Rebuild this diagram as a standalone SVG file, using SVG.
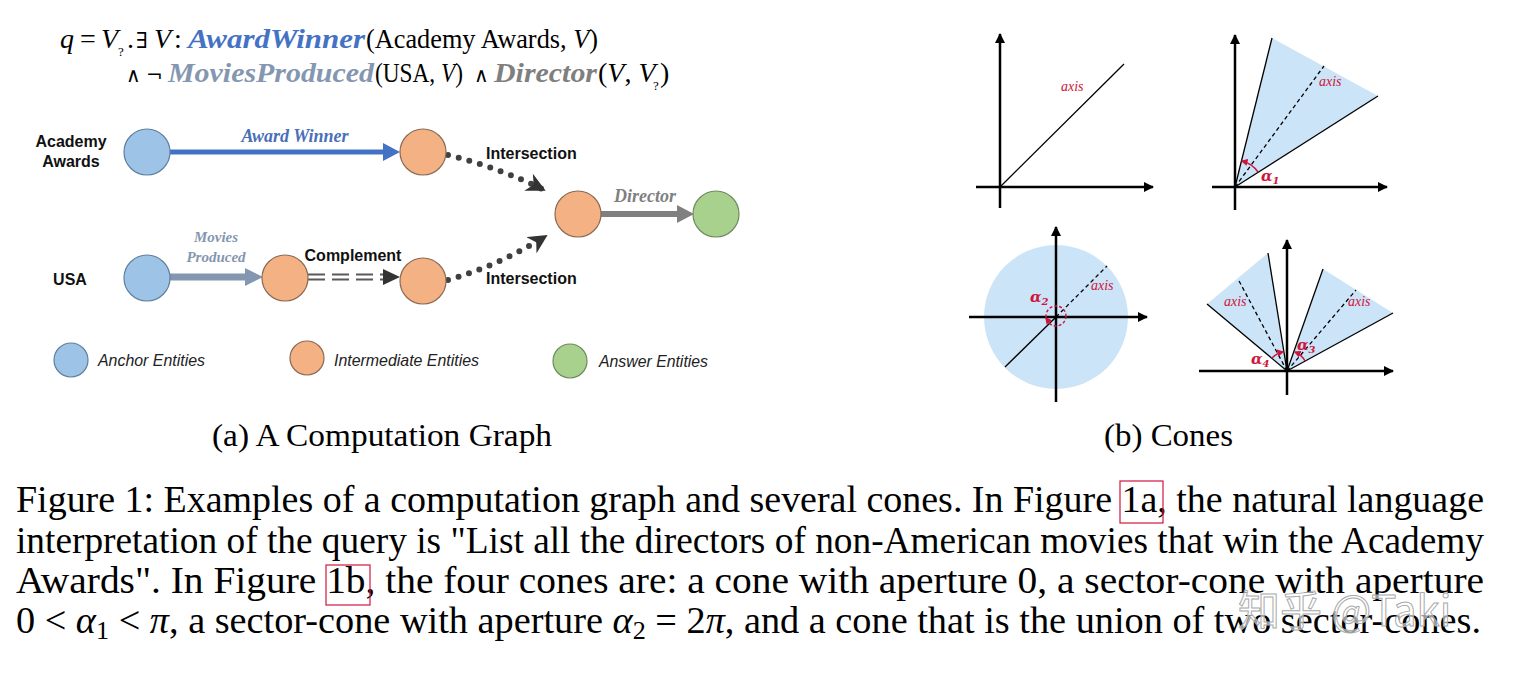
<svg xmlns="http://www.w3.org/2000/svg" width="1529" height="674" viewBox="0 0 1529 674">
<defs>
<style>
.serif{font-family:"Liberation Serif","Times New Roman",serif}
.sans{font-family:"Liberation Sans",Arial,sans-serif}
.f{font-size:28px}
.it{font-style:italic}
.bi{font-style:italic;font-weight:bold}
.lbl{font-family:"Liberation Sans",Arial,sans-serif;font-weight:bold;font-size:16px;fill:#111}
.leg{font-family:"Liberation Sans",Arial,sans-serif;font-style:italic;font-size:17px;fill:#222}
.blue{fill:#9DC3E6;stroke:#5f7f9f;stroke-width:1.2}
.orange{fill:#F4B183;stroke:#8a6a52;stroke-width:1.2}
.green{fill:#A9D18E;stroke:#6d8a5c;stroke-width:1.2}
.ax{stroke:#000;stroke-width:2.5;fill:none}
.thin{stroke:#000;stroke-width:1.3;fill:none}
.dash{stroke:#000;stroke-width:1.3;fill:none;stroke-dasharray:4 3}
.cone{fill:#CCE4F7;stroke:none}
.axis{font-family:"Liberation Serif",serif;font-style:italic;font-size:14px;fill:#d0143c}
.alpha{font-family:"DejaVu Serif","Liberation Serif",serif;font-style:italic;font-weight:bold;font-size:15px;fill:#d0143c}
.red{stroke:#d0143c;stroke-width:1.4;fill:none}
.cap{font-family:"Liberation Serif","Times New Roman",serif;font-size:38px;fill:#000}
.sub{font-family:"Liberation Serif","Times New Roman",serif;font-size:31px;fill:#000}
.dots{fill:none;stroke:#404040;stroke-width:6;stroke-linecap:round;stroke-dasharray:0 11}
</style>
<marker id="axhead" viewBox="0 0 10 10" refX="9" refY="5" markerWidth="4" markerHeight="4" orient="auto" markerUnits="strokeWidth">
<path d="M0,0 L10,5 L0,10 z" fill="#000"/>
</marker>
<marker id="notch" viewBox="0 0 10 10" refX="9" refY="5" markerWidth="3.2" markerHeight="3.2" orient="auto" markerUnits="strokeWidth">
<path d="M0,0 L10,5 L0,10 L3,5 z" fill="#333"/>
</marker>
<marker id="redhead" viewBox="0 0 10 10" refX="8" refY="5" markerWidth="5" markerHeight="5" orient="auto" markerUnits="strokeWidth">
<path d="M0,0 L10,5 L0,10 z" fill="#d0143c"/>
</marker>
</defs>
<rect width="1529" height="674" fill="#fff"/>

<!-- Formula -->
<g id="formula" class="serif f" fill="#000">
<text x="60" y="48" class="it">q</text>
<text x="80" y="48">=</text>
<text x="101" y="48" class="it">V</text><text x="118" y="56" font-size="13">?</text>
<text x="127" y="48">.</text>
<text x="136" y="48" font-family="DejaVu Serif,serif" font-size="22">∃</text>
<text x="154" y="48" class="it">V</text><text x="174" y="48">:</text>
<text x="188" y="48" class="bi" fill="#4472C4" textLength="177" lengthAdjust="spacingAndGlyphs">AwardWinner</text>
<text x="366" y="48" textLength="232" lengthAdjust="spacingAndGlyphs">(Academy Awards, <tspan class="it">V</tspan>)</text>
<text x="126" y="82" font-family="DejaVu Serif,serif" font-size="20">∧</text>
<text x="146" y="82" font-family="DejaVu Serif,serif" font-size="20">¬</text>
<text x="168" y="82" class="bi" fill="#8497B0" textLength="206" lengthAdjust="spacingAndGlyphs">MoviesProduced</text>
<text x="375" y="82" textLength="88" lengthAdjust="spacingAndGlyphs">(USA, <tspan class="it">V</tspan>)</text>
<text x="474" y="82" font-family="DejaVu Serif,serif" font-size="20">∧</text>
<text x="494" y="82" class="bi" fill="#7F7F7F" textLength="103" lengthAdjust="spacingAndGlyphs">Director</text>
<text x="598" y="82">(<tspan class="it">V</tspan>, <tspan class="it">V</tspan></text><text x="653" y="90" font-size="13">?</text><text x="660" y="82">)</text>
</g>

<!-- Connectors -->
<g id="connectors">
<line x1="170" y1="152" x2="385" y2="152" stroke="#4472C4" stroke-width="5"/>
<polygon points="383,143 400,152 383,161" fill="#4472C4"/>
<line x1="170" y1="277" x2="247" y2="277" stroke="#8497B0" stroke-width="7"/>
<polygon points="245,268 263,277 245,286" fill="#8497B0"/>
<g stroke="#595959" stroke-width="2.2" stroke-dasharray="17 7">
<line x1="308" y1="274.5" x2="385" y2="274.5"/>
<line x1="308" y1="279.5" x2="385" y2="279.5"/>
</g>
<polygon points="383,269 400,277 383,285" fill="#333"/>
<path class="dots" d="M448,155 Q500,168 544,190" marker-end="url(#notch)"/>
<path class="dots" d="M448,280 Q500,265 546,236" marker-end="url(#notch)"/>
<line x1="601" y1="214" x2="679" y2="214" stroke="#808080" stroke-width="6"/>
<polygon points="677,205 694,214 677,223" fill="#808080"/>
<text x="295" y="142" class="serif bi" font-size="18" fill="#4a6fb8" text-anchor="middle">Award Winner</text>
<text x="216" y="242" class="serif bi" font-size="15" fill="#8497B0" text-anchor="middle">Movies</text>
<text x="216" y="262" class="serif bi" font-size="15" fill="#8497B0" text-anchor="middle">Produced</text>
<text x="353" y="261" class="lbl" text-anchor="middle">Complement</text>
<text x="486" y="159" class="lbl">Intersection</text>
<text x="486" y="284" class="lbl">Intersection</text>
<text x="645" y="202" class="serif bi" font-size="18" fill="#7F7F7F" text-anchor="middle">Director</text>
</g>

<!-- Nodes -->
<g id="n_academy"><circle cx="147" cy="152" r="23" class="blue"/>
<text x="71" y="147" class="lbl" text-anchor="middle">Academy</text><text x="71" y="167" class="lbl" text-anchor="middle">Awards</text></g>
<g id="n_usa"><circle cx="147" cy="278" r="23" class="blue"/>
<text x="70" y="285" class="lbl" text-anchor="middle">USA</text></g>
<g id="n_v1"><circle cx="423" cy="152" r="23" class="orange"/></g>
<g id="n_v2"><circle cx="285" cy="278" r="23" class="orange"/></g>
<g id="n_v3"><circle cx="423" cy="281" r="23" class="orange"/></g>
<g id="n_v4"><circle cx="578" cy="214" r="23" class="orange"/></g>
<g id="n_answer"><circle cx="716" cy="214" r="23" class="green"/></g>

<!-- Legend -->
<g id="legend">
<ellipse cx="71" cy="360" rx="17" ry="17" class="blue"/>
<text x="98" y="366" class="leg" textLength="107" lengthAdjust="spacingAndGlyphs">Anchor Entities</text>
<ellipse cx="307" cy="358" rx="17" ry="17" class="orange"/>
<text x="334" y="366" class="leg" textLength="145" lengthAdjust="spacingAndGlyphs">Intermediate Entities</text>
<ellipse cx="570" cy="361" rx="17" ry="17" class="green"/>
<text x="599" y="367" class="leg" textLength="109" lengthAdjust="spacingAndGlyphs">Answer Entities</text>
</g>

<text x="212" y="446" class="sub" textLength="340" lengthAdjust="spacingAndGlyphs">(a) A Computation Graph</text>

<!-- Cones -->
<g id="cone1">
<line x1="1000" y1="208" x2="1000" y2="34" class="ax" marker-end="url(#axhead)"/>
<line x1="976" y1="187" x2="1153" y2="187" class="ax" marker-end="url(#axhead)"/>
<line x1="1000" y1="187" x2="1124" y2="64" class="thin"/>
<text x="1061" y="91" class="axis">axis</text>
</g>
<g id="cone2">
<polygon points="1235,187 1272,38 1378,96" class="cone"/>
<line x1="1235" y1="210" x2="1235" y2="35" class="ax" marker-end="url(#axhead)"/>
<line x1="1212" y1="187" x2="1387" y2="187" class="ax" marker-end="url(#axhead)"/>
<line x1="1235" y1="187" x2="1272" y2="38" class="thin"/>
<line x1="1235" y1="187" x2="1378" y2="96" class="thin"/>
<line x1="1235" y1="187" x2="1324" y2="66" class="dash"/>
<text x="1319" y="86" class="axis">axis</text>
<path d="M1258,172 A28,28 0 0 0 1242,161" class="red" marker-end="url(#redhead)"/>
<text x="1261" y="181" class="alpha">α<tspan font-size="10" dy="3">1</tspan></text>
</g>
<g id="cone3">
<circle cx="1056" cy="317" r="72" class="cone"/>
<line x1="1056" y1="402" x2="1056" y2="227" class="ax" marker-end="url(#axhead)"/>
<line x1="969" y1="317" x2="1147" y2="317" class="ax" marker-end="url(#axhead)"/>
<line x1="1056" y1="317" x2="1005" y2="367" class="thin"/>
<line x1="1056" y1="317" x2="1107" y2="266" class="dash"/>
<text x="1091" y="290" class="axis">axis</text>
<circle cx="1056" cy="316" r="10" class="red" stroke-dasharray="3 2"/>
<path d="M1049,322 L1046,318" class="red" marker-end="url(#redhead)"/>
<text x="1030" y="302" class="alpha">α<tspan font-size="10" dy="3">2</tspan></text>
</g>
<g id="cone4">
<polygon points="1287,371 1323,269 1393,313" class="cone"/>
<polygon points="1287,371 1268,253 1207,304" class="cone"/>
<line x1="1287" y1="395" x2="1287" y2="240" class="ax" marker-end="url(#axhead)"/>
<line x1="1199" y1="371" x2="1393" y2="371" class="ax" marker-end="url(#axhead)"/>
<line x1="1287" y1="371" x2="1323" y2="269" class="thin"/>
<line x1="1287" y1="371" x2="1393" y2="313" class="thin"/>
<line x1="1287" y1="371" x2="1356" y2="290" class="dash"/>
<line x1="1287" y1="371" x2="1268" y2="253" class="thin"/>
<line x1="1287" y1="371" x2="1207" y2="304" class="thin"/>
<line x1="1287" y1="371" x2="1238" y2="279" class="dash"/>
<text x="1348" y="306" class="axis">axis</text>
<text x="1224" y="306" class="axis">axis</text>
<path d="M1305,361 A20,20 0 0 0 1295,352" class="red" marker-end="url(#redhead)"/>
<path d="M1272,358 A20,20 0 0 1 1283,352" class="red" marker-end="url(#redhead)"/>
<text x="1297" y="350" class="alpha">α<tspan font-size="10" dy="3">3</tspan></text>
<text x="1251" y="364" class="alpha">α<tspan font-size="10" dy="3">4</tspan></text>
</g>

<text x="1104" y="446" class="sub" textLength="129" lengthAdjust="spacingAndGlyphs">(b) Cones</text>

<!-- Caption -->
<g id="caption">
<text x="16" y="512" class="cap" textLength="1468" lengthAdjust="spacingAndGlyphs">Figure 1: Examples of a computation graph and several cones. In Figure 1a, the natural language</text>
<text x="16" y="553" class="cap" textLength="1468" lengthAdjust="spacingAndGlyphs">interpretation of the query is "List all the directors of non-American movies that win the Academy</text>
<text x="16" y="593" class="cap" textLength="1468" lengthAdjust="spacingAndGlyphs">Awards".  In Figure 1b, the four cones are:  a cone with aperture 0, a sector-cone with aperture</text>
<text x="16" y="633" class="cap" textLength="1465" lengthAdjust="spacingAndGlyphs">0 &lt; <tspan font-style="italic">α</tspan><tspan font-size="26" dy="6">1</tspan><tspan dy="-6"> &lt; </tspan><tspan font-style="italic">π</tspan>, a sector-cone with aperture <tspan font-style="italic">α</tspan><tspan font-size="26" dy="6">2</tspan><tspan dy="-6"> = 2</tspan><tspan font-style="italic">π</tspan>, and a cone that is the union of two sector-cones.</text>
<rect x="1120" y="481" width="43" height="42" fill="none" stroke="#d0143c" stroke-width="1.2"/>
<rect x="326" y="565" width="44" height="40" fill="none" stroke="#d0143c" stroke-width="1.2"/>
</g>
<text x="1238" y="626" font-family="Noto Sans CJK SC,Noto Sans,sans-serif" font-size="42" fill="#fff" fill-opacity="0.6" stroke="#aaa" stroke-width="1">知乎 @Taki</text>
</svg>
